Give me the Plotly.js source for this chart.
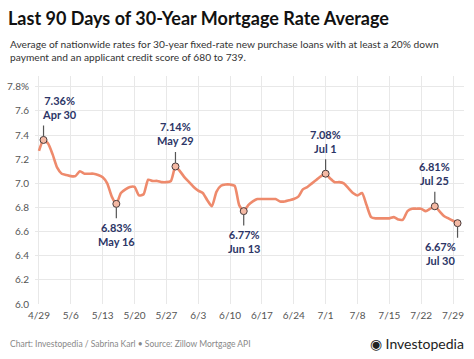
<!DOCTYPE html>
<html>
<head>
<meta charset="utf-8">
<script src="https://cdn.plot.ly/plotly-3.0.1.min.js"></script>
<style>html,body{margin:0;padding:0;background:#fff;}#chart{width:474px;height:359px;}</style>
</head>
<body>
<div id="chart"></div>
<script>
// Daily rates, Apr 29 2024 through Jul 30 2024
var startDate = '2024-04-29';
var rates = [
  7.27, 7.36,
  7.33, 7.24, 7.13, 7.08, 7.07, 7.06, 7.06, 7.10, 7.08, 7.08,
  7.08, 7.07, 7.05, 7.00, 6.89, 6.83, 6.92, 6.95, 6.97, 6.97,
  6.90, 6.91, 7.03, 7.02, 7.02, 7.01, 7.01, 7.02, 7.14, 7.10, 7.05,
  7.01, 6.97, 6.94, 6.92, 6.86, 6.81, 6.93, 6.98, 6.99, 6.99,
  6.98, 6.82, 6.77, 6.82, 6.85, 6.87, 6.87, 6.87, 6.87, 6.87,
  6.85, 6.85, 6.86, 6.87, 6.89, 6.95, 6.97, 7.00, 7.03, 7.06,
  7.08, 7.04, 7.01, 7.01, 7.00, 6.96, 6.92, 6.90, 6.92, 6.82,
  6.72, 6.71, 6.71, 6.71, 6.71, 6.72, 6.70, 6.70, 6.77, 6.79,
  6.79, 6.79, 6.77, 6.79, 6.81, 6.77, 6.73, 6.71, 6.69, 6.67
];
var markDates = ['2024-04-30', '2024-05-16', '2024-05-29', '2024-06-13', '2024-07-01', '2024-07-25', '2024-07-30'];
var markValues = [7.36, 6.83, 7.14, 6.77, 7.08, 6.81, 6.67];
var markLabels = ['Apr 30', 'May 16', 'May 29', 'Jun 13', 'Jul 1', 'Jul 25', 'Jul 30'];
var markAbove = [true, false, true, false, true, true, false];
var xTickVals = ['2024-04-29', '2024-05-06', '2024-05-13', '2024-05-20', '2024-05-27', '2024-06-03', '2024-06-10', '2024-06-17', '2024-06-24', '2024-07-01', '2024-07-08', '2024-07-15', '2024-07-22', '2024-07-29'];
var xTickText = ['4/29', '5/6', '5/13', '5/20', '5/27', '6/3', '6/10', '6/17', '6/24', '7/1', '7/8', '7/15', '7/22', '7/29'];
var yTickVals = [6.0, 6.2, 6.4, 6.6, 6.8, 7.0, 7.2, 7.4, 7.6, 7.8];
var yTickText = ['6.0', '6.2', '6.4', '6.6', '6.8', '7.0', '7.2', '7.4', '7.6', '7.8%'];

function dayStr(i) {
  var d = new Date(startDate + 'T00:00:00Z');
  d.setUTCDate(d.getUTCDate() + i);
  return d.toISOString().slice(0, 10);
}
var dates = rates.map(function (_, i) { return dayStr(i); });

var FONT = 'Lato, "Source Sans Pro", "Noto Sans", sans-serif';
var NAVY = '#2c3566';

var traces = [
  {
    x: dates, y: rates, type: 'scatter', mode: 'lines',
    line: {color: '#ee8a6c', width: 2.6, shape: 'spline', smoothing: 0.6},
    hoverinfo: 'skip'
  },
  {
    x: markDates, y: markValues, type: 'scatter', mode: 'markers',
    marker: {size: 7, color: '#f4b9a4', line: {color: '#4a3b3b', width: 1}},
    hoverinfo: 'skip'
  }
];

var annotations = [];
markDates.forEach(function (d, i) {
  var up = markAbove[i];
  annotations.push({
    x: d, y: markValues[i], xref: 'x', yref: 'y', text: '',
    showarrow: true, arrowhead: 0, arrowwidth: 1.2, arrowcolor: '#555',
    ax: 0, ay: up ? -16 : 16, standoff: 3.5
  });
  var xa = 'center', xs = 0;
  if (i === 0) { xa = 'left'; xs = -4; }
  if (i === markDates.length - 1) { xa = 'right'; xs = 0; }
  annotations.push({
    x: d, y: markValues[i], xref: 'x', yref: 'y',
    text: '<b>' + markValues[i].toFixed(2) + '%</b><br><b>' + markLabels[i] + '</b>',
    showarrow: false, xanchor: xa, xshift: xs,
    yanchor: up ? 'bottom' : 'top', yshift: up ? 17 : -15,
    font: {family: FONT, size: 11, color: NAVY}, align: 'center'
  });
});

// subtitle
annotations.push({
  xref: 'paper', yref: 'paper', x: -0.063, y: (304 - 36) / 228, xanchor: 'left', yanchor: 'top',
  text: 'Average of nationwide rates for 30-year fixed-rate new purchase loans with at least a 20% down<br>payment and an applicant credit score of 680 to 739.',
  showarrow: false, align: 'left', font: {family: FONT, size: 10.2, color: '#333'}
});
// footer
annotations.push({
  xref: 'paper', yref: 'paper', x: -0.063, y: (304 - 344) / 228, xanchor: 'left', yanchor: 'middle',
  text: 'Chart: Investopedia / Sabrina Karl • Source: Zillow Mortgage API',
  showarrow: false, font: {family: FONT, size: 8.5, color: '#888'}
});
annotations.push({
  xref: 'paper', yref: 'paper', x: (466 - 35) / 429, y: (304 - 343) / 228, xanchor: 'right', yanchor: 'middle',
  text: '◉ Investopedia',
  showarrow: false, font: {family: FONT, size: 14, color: '#222'}
});

var layout = {
  width: 474, height: 359,
  margin: {l: 35, r: 10, t: 76, b: 55, pad: 0},
  paper_bgcolor: '#fff', plot_bgcolor: '#fff',
  showlegend: false,
  title: {
    text: '<b>Last 90 Days of 30-Year Mortgage Rate Average</b>',
    x: 8 / 474, xanchor: 'left', xref: 'container',
    y: 1 - 19 / 359, yanchor: 'middle', yref: 'container',
    font: {family: FONT, size: 18, color: '#111'}
  },
  xaxis: {
    type: 'date', range: ['2024-04-28 03:00', '2024-07-31 10:00'],
    tickvals: xTickVals, ticktext: xTickText, ticks: '', ticklabelstandoff: 4,
    showgrid: true, gridcolor: '#e8e8e8', gridwidth: 1, zeroline: false, showline: false,
    tickfont: {family: FONT, size: 10, color: '#555'}, fixedrange: true
  },
  yaxis: {
    range: [6.0, 7.89], tickvals: yTickVals, ticktext: yTickText, ticks: '', ticklabelstandoff: 5,
    showgrid: true, gridcolor: '#e8e8e8', gridwidth: 1, zeroline: false, showline: false,
    tickfont: {family: FONT, size: 10, color: '#555'}, fixedrange: true
  },
  annotations: annotations
};

Plotly.newPlot('chart', traces, layout, {displayModeBar: false, staticPlot: true});
</script>
</body>
</html>
